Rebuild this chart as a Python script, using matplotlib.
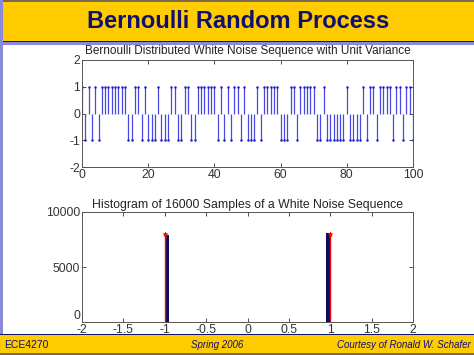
import numpy as np
import matplotlib
matplotlib.use('Agg')
import matplotlib.pyplot as plt
from matplotlib.patches import Rectangle

plt.rcParams['font.family'] = ['Liberation Sans', 'DejaVu Sans']
plt.rcParams['axes.unicode_minus'] = False

# Bernoulli sequence (n = 0..100)
n = np.arange(0, 101)
top_runs = [(0, 1), (1, -1), (2, 1), (3, -1), (4, 1), (5, -1),
            (6, 1), (7, 1), (8, 1), (9, 1), (10, 1), (11, 1), (12, 1), (13, 1),
            (14, -1), (15, -1), (16, 1), (17, 1), (18, -1), (19, 1),
            (20, -1), (21, -1), (22, -1), (23, 1), (24, -1), (25, -1), (26, -1),
            (27, 1), (28, 1), (29, -1), (30, -1), (31, 1), (32, 1), (33, -1), (34, -1),
            (35, 1), (36, 1), (37, 1), (38, 1), (39, 1), (40, 1),
            (41, -1), (42, 1), (43, -1), (44, 1), (45, -1), (46, 1), (47, 1),
            (48, -1), (49, 1), (50, -1), (51, -1), (52, -1), (53, 1), (54, -1),
            (55, 1), (56, 1), (57, 1), (58, 1), (59, 1),
            (60, -1), (61, -1), (62, -1), (63, 1), (64, 1), (65, -1),
            (66, 1), (67, 1), (68, 1), (69, 1), (70, 1), (71, -1), (72, -1), (73, 1),
            (74, -1), (75, -1), (76, -1), (77, -1), (78, -1), (79, -1), (80, 1),
            (81, -1), (82, -1), (83, -1), (84, -1), (85, 1), (86, -1), (87, 1), (88, 1),
            (89, -1), (90, 1), (91, 1), (92, 1), (93, 1), (94, -1), (95, 1), (96, 1),
            (97, -1), (98, 1), (99, 1), (100, -1)]
x_seq = np.array([v for _, v in top_runs])

# histogram panel
hist_centers = [-0.97, 0.972]
hist_counts = [7920, 8080]
expected_x = [-1.0, 1.0]
expected_counts = [8000, 8000]

gold = '#FFCC00'
navy = '#10106e'

fig = plt.figure(figsize=(4.74, 3.55), dpi=100)
fig.patch.set_facecolor('white')

# header / footer bands
fig.add_artist(Rectangle((0, 1 - 41 / 355), 1, 41 / 355, transform=fig.transFigure,
                         facecolor=gold, edgecolor='none'))
fig.add_artist(Rectangle((0, 1 - 42 / 355), 1, 1.5 / 355, transform=fig.transFigure,
                         facecolor=navy, edgecolor='none'))
fig.add_artist(Rectangle((0, 1 - 45 / 355), 1, 3 / 355, transform=fig.transFigure,
                         facecolor='#8a8ad8', edgecolor='none'))
fig.add_artist(Rectangle((0, 1 - 2 / 355), 1, 2 / 355, transform=fig.transFigure,
                         facecolor='#7a6a50', edgecolor='none'))
fig.add_artist(Rectangle((0, 0), 3 / 474, 1, transform=fig.transFigure,
                         facecolor='#8a8ad8', edgecolor='none'))
fig.add_artist(Rectangle((0, 0), 1, 20 / 355, transform=fig.transFigure,
                         facecolor=gold, edgecolor='none'))
fig.add_artist(Rectangle((0, 20 / 355), 1, 1.5 / 355, transform=fig.transFigure,
                         facecolor=navy, edgecolor='none'))
fig.add_artist(Rectangle((0, 0), 1, 2 / 355, transform=fig.transFigure,
                         facecolor='#7a6a50', edgecolor='none'))

fig.text(238 / 474, 1 - 21 / 355, 'Bernoulli Random Process', ha='center', va='center',
         fontsize=17, fontweight='bold', color=navy)
fig.text(4 / 474, 10 / 355, 'ECE4270', ha='left', va='center', fontsize=7.5,
         color=navy)
fig.text(217 / 474, 10 / 355, 'Spring 2006', ha='center', va='center', fontsize=7,
         color=navy, style='italic')
fig.text(471 / 474, 10 / 355, 'Courtesy of Ronald W. Schafer', ha='right', va='center',
         fontsize=7, color=navy, style='italic')

# top: stem plot
ax1 = fig.add_axes([82 / 474, 1 - 167 / 355, 331 / 474, 107 / 355])
ax1.vlines(n, 0, x_seq, color='#4848e4', lw=0.9)
ax1.plot(n, x_seq, 'o', color='#2020d0', ms=1.8, mew=0)
ax1.set_xlim(0, 100)
ax1.set_ylim(-2, 2)
ax1.set_xticks(np.arange(0, 101, 20))
ax1.set_yticks([-2, -1, 0, 1, 2])
ax1.set_title('Bernoulli Distributed White Noise Sequence with Unit Variance',
              fontsize=8.5, pad=4, color='#222222')

# bottom: histogram
ax2 = fig.add_axes([82 / 474, 1 - 322 / 355, 331 / 474, 110 / 355])
ax2.bar(hist_centers, hist_counts, width=0.045, color='#0a0a60', edgecolor='none')
ax2.vlines(expected_x, 0, expected_counts, color='red', lw=1.0)
ax2.plot(expected_x, expected_counts, '*', color='red', ms=3.5, mew=0.5)
ax2.set_xlim(-2, 2)
ax2.set_ylim(0, 10000)
ax2.set_xticks(np.arange(-2, 2.01, 0.5))
ax2.set_xticklabels(['-2', '-1.5', '-1', '-0.5', '0', '0.5', '1', '1.5', '2'])
ax2.set_yticks([0, 5000, 10000])
ax2.set_title('Histogram of 16000 Samples of a White Noise Sequence',
              fontsize=8.8, pad=3, color='#222222')

for ax in (ax1, ax2):
    ax.tick_params(direction='in', top=True, right=True, length=3, width=0.6,
                   labelsize=8.8, pad=1.5, colors='#333333', labelcolor='#333333')
    for s in ax.spines.values():
        s.set_linewidth(0.7)
        s.set_color('#555555')

# lift the "0" count label a touch so it clears the "-2" below it
ax2.get_yticklabels()[0].set_va('bottom')

fig.savefig('out.png', dpi=100)
